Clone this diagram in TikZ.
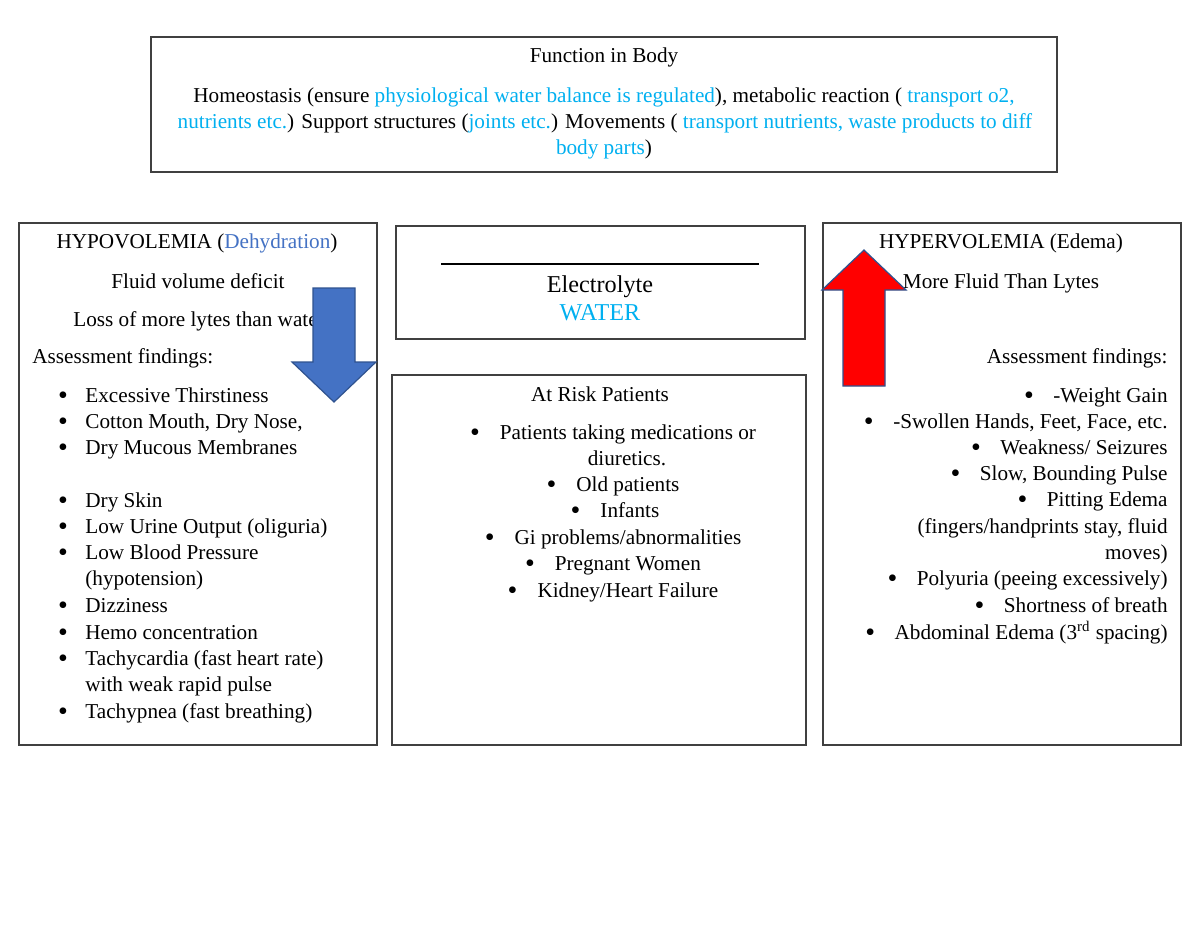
\documentclass[tikz,border=0pt]{standalone}
\usepackage{fontspec}
\setmainfont{Liberation Serif}
\definecolor{cyanb}{HTML}{00B0F0}
\definecolor{dblue}{HTML}{4472C4}
\definecolor{arrowblue}{HTML}{4472C4}
\definecolor{arrowedge}{HTML}{2F528F}
\definecolor{boxline}{HTML}{404040}
\newcommand{\cb}[1]{\textcolor{cyanb}{#1}}
\newcommand{\bul}{\raisebox{-1.2pt}{\fontsize{14}{13}\selectfont\textbullet}}
\begin{document}
\begin{tikzpicture}[x=0.5pt,y=-0.5pt,
  t/.style={inner sep=0pt,font=\fontsize{10.6}{13}\selectfont,text height=0.7em,text depth=0.2em},
  boxframe/.style={draw=boxline,line width=0.6pt},
  arrowshape/.style={draw=arrowedge,line width=0.6pt,line join=miter}]
\useasboundingbox[fill=white] (0,0) rectangle (1200,927);
% boxes
\draw[boxframe] (151,37) rectangle (1057,172);
\draw[boxframe] (19,223) rectangle (377,745);
\draw[boxframe] (396,226) rectangle (805,339);
\draw[boxframe] (392,375) rectangle (806,745);
\draw[boxframe] (823,223) rectangle (1181,745);
\begin{scope}[yshift=-1pt]
% top box
\node[t] (fib) at (604,55) {Function in Body};
\node[t] (p1) at (604,95) {Homeostasis (ensure \cb{physiological water balance is regulated}), metabolic reaction ( \cb{transport o2,}};
\node[t] (p2) at (605,121) {\cb{nutrients etc.}) Support structures (\cb{joints etc.}) Movements ( \cb{transport nutrients, waste products to diff}};
\node[t] (p3) at (604,147) {\cb{body parts})};
% left box
\node[t] (hypo) at (197,241) {HYPOVOLEMIA (\textcolor{dblue}{Dehydration})};
\node[t] (fvd) at (198,281) {Fluid volume deficit};
\node[t,anchor=west] (loss) at (73,319) {Loss of more lytes than water};
\node[t,anchor=west] (assl) at (32,356) {Assessment findings:};
\foreach \yy/\txt [count=\i] in {395/{Excessive Thirstiness},421/{Cotton Mouth, Dry Nose,},447/{Dry Mucous Membranes},500/{Dry Skin},526/{Low Urine Output (oliguria)},552/{Low Blood Pressure},605/{Dizziness},632/{Hemo concentration},658/{Tachycardia (fast heart rate)},711/{Tachypnea (fast breathing)}}{
  \node[t] (lb\i) at (63,\yy) {\bul};
  \node[t,anchor=west] (lt\i) at (85,\yy) {\txt};
}
\node[t,anchor=west] (lt6b) at (85,578) {(hypotension)};
\node[t,anchor=west] (lt9b) at (85,684) {with weak rapid pulse};
% middle bottom box
\node[t] (arp) at (600,394) {At Risk Patients};
\node[t] (m1) at (613,432) {\bul\hspace{10pt}Patients taking medications or};
\node[t] (m1b) at (627,458) {diuretics.};
\node[t] (m2) at (613,484) {\bul\hspace{10pt}Old patients};
\node[t] (m3) at (615,510) {\bul\hspace{10pt}Infants};
\node[t] (m4) at (613,537) {\bul\hspace{10pt}Gi problems/abnormalities};
\node[t] (m5) at (613,563) {\bul\hspace{10pt}Pregnant Women};
\node[t] (m6) at (613,590) {\bul\hspace{10pt}Kidney/Heart Failure};
% right box
\node[t] (hyper) at (1001,241) {HYPERVOLEMIA (Edema)};
\node[t] (mft) at (1001,281) {More Fluid Than Lytes};
\node[t,anchor=east] (assr) at (1168,356) {Assessment findings:};
\foreach \yy/\txt [count=\i] in {395/{-Weight Gain},421/{-Swollen Hands, Feet, Face, etc.},447/{Weakness/ Seizures},473/{Slow, Bounding Pulse},499/{Pitting Edema},578/{Polyuria (peeing excessively)},605/{Shortness of breath},632/{Abdominal Edema (3\textsuperscript{rd} spacing)}}{
  \node[t,anchor=east] (rt\i) at (1168,\yy) {\txt};
  \node[t] (rb\i) at ([xshift=-12pt]rt\i.west) {\bul};
}
\node[t,anchor=east] (rt5b) at (1168,526) {(fingers/handprints stay, fluid};
\node[t,anchor=east] (rt5c) at (1168,552) {moves)};
% middle top box text
\node[t,font=\fontsize{12.1}{14}\selectfont] (elec) at (600,285) {Electrolyte};
\node[t,font=\fontsize{12.1}{14}\selectfont,text=cyanb] (water) at (600,313) {WATER};
\end{scope}
\draw[line width=0.6pt] (441,264) coordinate (ls) -- (759,264) coordinate (le);
% blue down arrow
\fill[arrowblue] (313,288) -- (355,288) -- (355,362) -- (376,362) -- (334,402) -- (292,362) -- (313,362) -- cycle;
\draw[arrowshape] (313,288) -- (355,288) -- (355,362) -- (376,362) -- (334,402) -- (292,362) -- (313,362) -- cycle;
% red up arrow
\fill[red] (843,386) -- (885,386) -- (885,290) -- (906,290) -- (864,250) -- (822,290) -- (843,290) -- cycle;
\draw[arrowshape] (843,386) -- (885,386) -- (885,290) -- (906,290) -- (864,250) -- (822,290) -- (843,290) -- cycle;
\end{tikzpicture}
\end{document}
